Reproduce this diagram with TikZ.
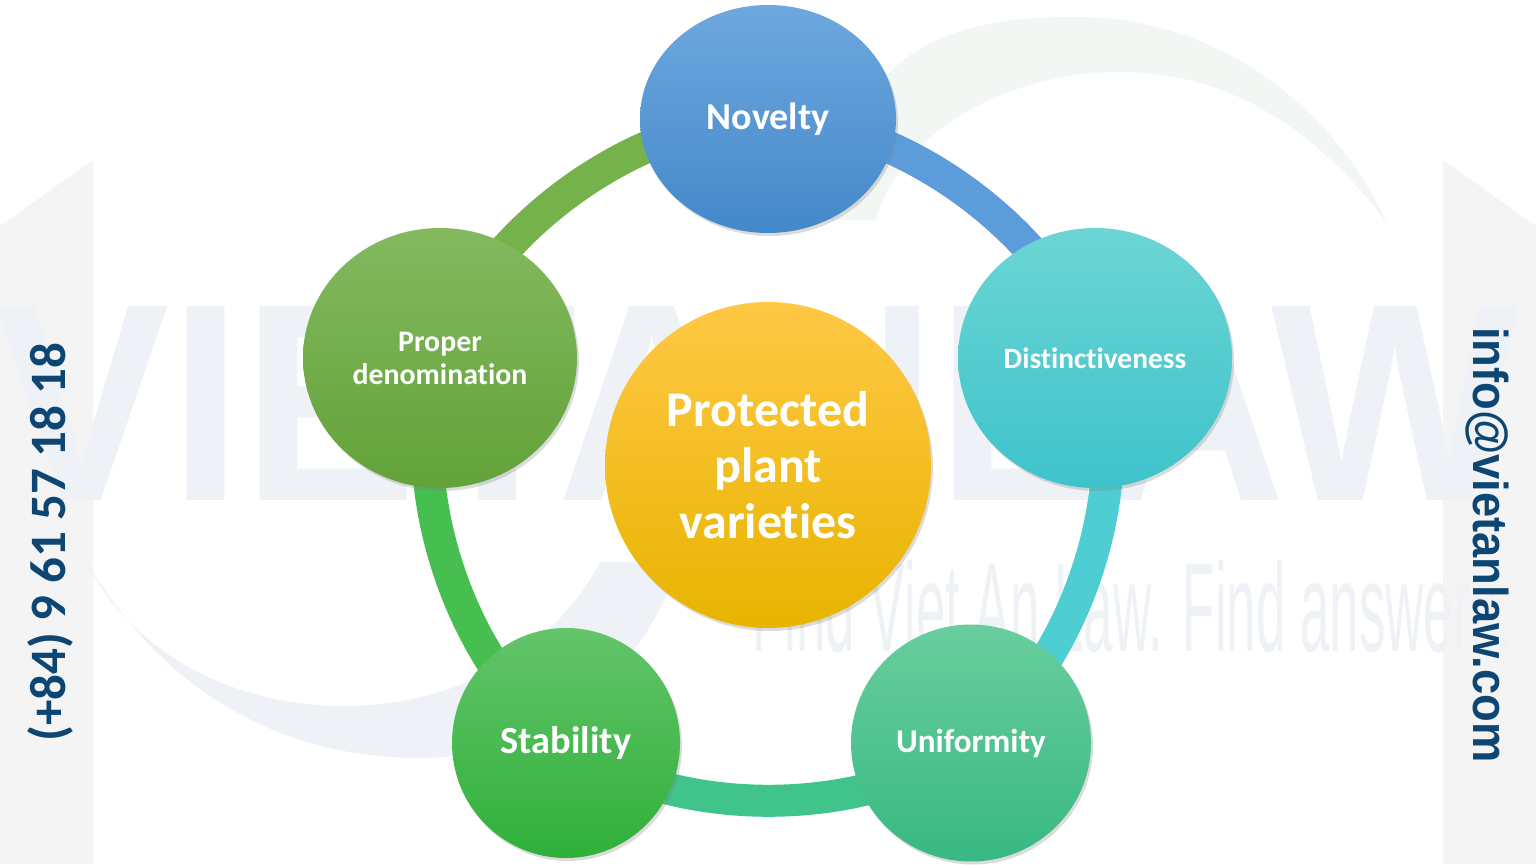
\documentclass[tikz,border=0pt]{standalone}
\usepackage{fontspec}
\usepackage{graphicx}
\setmainfont{Carlito}[Ligatures={NoCommon}]
\newfontfamily\wmfont{Liberation Sans}
\newfontfamily\mailfont[FakeStretch=0.925]{Liberation Sans}
\usetikzlibrary{shapes.geometric,shadows}
\pgfdeclarelayer{back}
\pgfdeclarelayer{ringlayer}
\pgfsetlayers{back,ringlayer,main}
\definecolor{panelgrey}{RGB}{244,244,244}
\definecolor{wmblue}{RGB}{238,242,246}
\definecolor{wmgreen}{RGB}{242,247,244}
\definecolor{textblue}{RGB}{14,70,115}
\definecolor{novT}{RGB}{110,168,222}\definecolor{novB}{RGB}{68,136,202}
\definecolor{disT}{RGB}{108,213,212}\definecolor{disB}{RGB}{62,195,203}
\definecolor{uniT}{RGB}{105,206,158}\definecolor{uniB}{RGB}{56,184,130}
\definecolor{staT}{RGB}{100,196,106}\definecolor{staB}{RGB}{47,176,58}
\definecolor{proT}{RGB}{132,185,96}\definecolor{proB}{RGB}{98,162,56}
\definecolor{cenT}{RGB}{255,200,69}\definecolor{cenM}{RGB}{252,196,0}\definecolor{cenB}{RGB}{232,180,0}
\definecolor{ringND}{RGB}{93,156,218}
\definecolor{ringDU}{RGB}{78,206,210}
\definecolor{ringUS}{RGB}{65,195,140}
\definecolor{ringSP}{RGB}{70,190,80}
\definecolor{ringPN}{RGB}{118,178,76}
\tikzset{
  bubble/.style={ellipse, inner sep=0pt, text=white, align=center,
    drop shadow={opacity=0.28, shadow xshift=1pt, shadow yshift=-1.5pt}},
  ringarc/.style={line width=16pt,
    preaction={draw=black, opacity=0.12, transform canvas={xshift=0.8pt, yshift=-1pt}}},
  arcto/.style={bend right=36, looseness=0.83},
  sidetext/.style={text=textblue, inner sep=0pt},
}
\begin{document}
\begin{tikzpicture}[x=0.5pt,y=0.5pt]
\useasboundingbox (0,0) rectangle (1536,864);
\begin{pgfonlayer}{back}
\fill[white] (0,0) rectangle (1536,864);
% side panels
\fill[panelgrey] (0,0) -- (0,638) -- (93,704) -- (93,0) -- cycle;
\fill[panelgrey] (1443,0) -- (1443,704) -- (1536,638) -- (1536,0) -- cycle;
% logo swooshes
\fill[wmgreen] (830,644) .. controls (850,804) and (930,847) .. (1075,847)
  .. controls (1230,847) and (1340,744) .. (1387,641)
  .. controls (1310,744) and (1220,792) .. (1120,792)
  .. controls (1010,792) and (900,734) .. (876,644) -- cycle;
\fill[wmblue] (87,301) .. controls (170,164) and (290,106) .. (420,106)
  .. controls (540,106) and (640,184) .. (680,302)
  -- (600,302) .. controls (560,224) and (470,158) .. (343,158)
  .. controls (230,158) and (130,214) .. (87,301) -- cycle;
% watermark texts
\node[anchor=base west, inner sep=0pt, text=wmblue] (wm) at (-6,364)
  {\scalebox{0.93}[1]{\wmfont\bfseries\fontsize{141}{141}\selectfont VIETANLAW}};
\node[anchor=base west, inner sep=0pt, text=wmblue] (tag) at (752,213)
  {\scalebox{0.42}[1]{\wmfont\fontsize{63}{63}\selectfont Find Viet An Law. Find answers.}};
\end{pgfonlayer}

% side texts
\node[sidetext, rotate=90, font=\bfseries\fontsize{25.5}{25.5}\selectfont] (phone) at (50,322)
  {(+84) 9 61 57 18 18};
\node[sidetext, rotate=-90, font=\mailfont\bfseries\fontsize{24.5}{24.5}\selectfont] (mail) at (1487,319)
  {info@vietanlaw.com};

% nodes
\node[circle, inner sep=0pt, minimum size=163pt, text=white, align=center,
  font=\bfseries\fontsize{25}{28}\selectfont,
  top color=cenT, middle color=cenM, bottom color=cenB,
  drop shadow={opacity=0.28, shadow xshift=1pt, shadow yshift=-1.5pt}] (cen) at (768,399)
  {Protected\\ plant\\ varieties};
\node[bubble, minimum width=128pt, minimum height=114pt, top color=novT, bottom color=novB,
  font=\bfseries\fontsize{19}{22}\selectfont] (nov) at (768,745) {Novelty};
\node[bubble, minimum width=137pt, minimum height=130pt, top color=disT, bottom color=disB,
  font=\bfseries\fontsize{14.7}{16.5}\selectfont] (dis) at (1095,506) {Distinctiveness};
\node[bubble, minimum width=120pt, minimum height=118.5pt, top color=uniT, bottom color=uniB,
  font=\bfseries\fontsize{16.6}{19}\selectfont] (uni) at (971,121) {Uniformity};
\node[bubble, minimum width=114pt, minimum height=115pt, top color=staT, bottom color=staB,
  font=\bfseries\fontsize{19.2}{22}\selectfont] (sta) at (566,121) {Stability};
\node[bubble, minimum width=137pt, minimum height=130pt, top color=proT, bottom color=proB,
  font=\bfseries\fontsize{14.9}{16.5}\selectfont] (pro) at (440,506) {Proper\\ denomination};

% ring
\begin{pgfonlayer}{ringlayer}
\draw[ringarc, draw=ringND] (dis.center) to[arcto] (nov.center);
\draw[ringarc, draw=ringPN] (nov.center) to[arcto] (pro.center);
\draw[ringarc, draw=ringSP] (pro.center) to[arcto] (sta.center);
\draw[ringarc, draw=ringUS] (sta.center) to[arcto] (uni.center);
\draw[ringarc, draw=ringDU] (uni.center) to[arcto] (dis.center);
\end{pgfonlayer}
\end{tikzpicture}
\end{document}
